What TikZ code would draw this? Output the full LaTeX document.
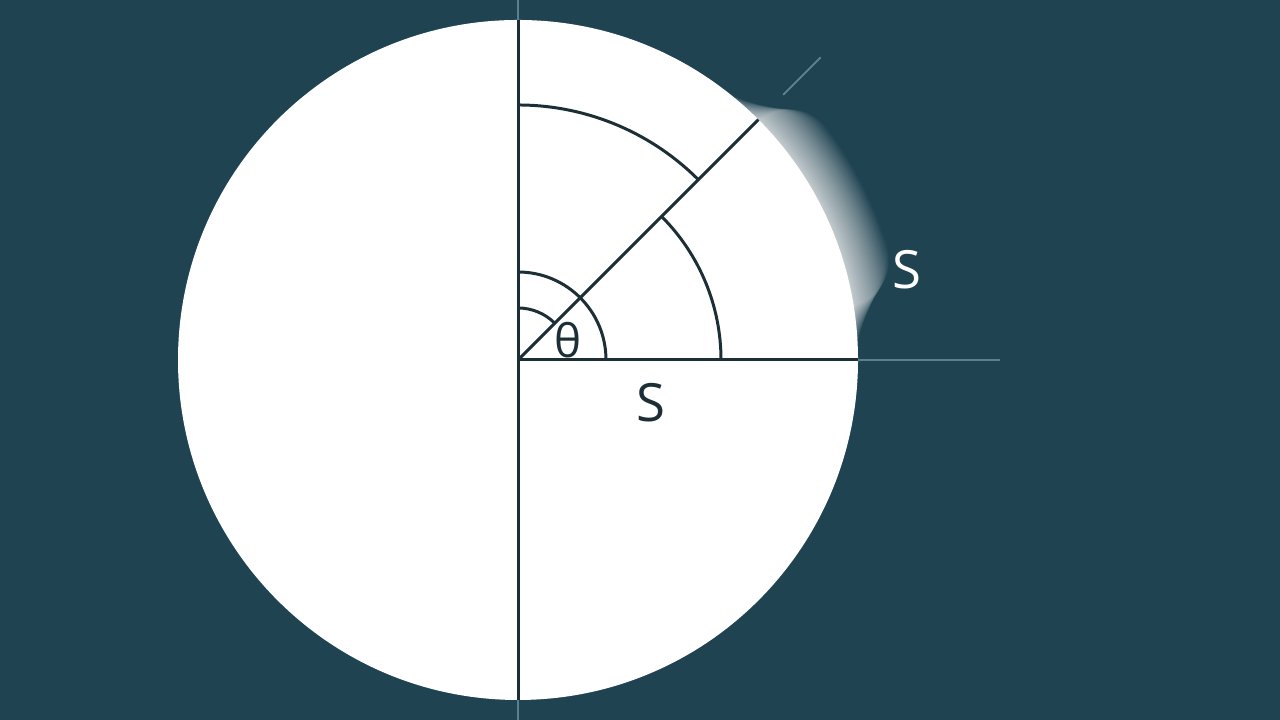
\documentclass[tikz,border=0pt]{standalone}
\usepackage{fontspec}
\setmainfont{Open Sans}
\usetikzlibrary{positioning,calc}
\definecolor{bgteal}{HTML}{1F4351}
\definecolor{ink}{HTML}{1C2F36}
\definecolor{faint}{HTML}{5A808D}

\begin{document}
\begin{tikzpicture}
\tikzset{every node/.style={inner sep=0pt},
  ln/.style={ink, line width=0.85pt},
  ext/.style={faint, line width=0.6pt}}
\fill [bgteal] (0,0) rectangle (12.8,7.2);
\useasboundingbox (0,0) rectangle (12.8,7.2);
\coordinate (O) at (5.18,3.6);
\coordinate (A) at ($(O)+(0:3.4)$);
\coordinate (B) at ($(O)+(45:3.4)$);
\coordinate (C) at ($(O)+(90:3.4)$);
\coordinate (D) at ($(O)+(270:3.4)$);
\coordinate (Aend) at (10.0,3.6);
\coordinate (Bin) at ($(O)+(45:3.75)$);
\coordinate (Bend) at ($(O)+(45:4.28)$);
% glow on the arc
\foreach \i in {1,...,50}
  \draw [white, opacity=0.032, line width=\i*sqrt(\i)*0.026mm, line cap=round]
    ($(O)+(2+\i*0.3:3.4)$) arc (2+\i*0.3:52-\i*0.3:3.4);
\fill [white] (O) circle (3.4);
% lines
\draw [ext] (5.18,0) -- (5.18,7.2);
\draw [ext] (A) -- (Aend);
\draw [ext] (Bin) -- (Bend);
\draw [ln] (C) -- (D);
\draw [ln] (O) -- (A);
\draw [ln] (O) -- (B);
% arcs
\draw [ln] ($(O)+(90:2.55)$) arc (90:45:2.55);
\draw [ln] ($(O)+(0:2.03)$) arc (0:45:2.03);
\draw [ln] ($(O)+(0:0.88)$) arc (0:90:0.88);
\draw [ln] ($(O)+(90:0.52)$) arc (90:45:0.52);
% labels
\node [white, font=\fontsize{15}{18}\selectfont] (sarc) at (9.07,4.5) {S};
\node [ink, font=\fontsize{15}{18}\selectfont] (srad) at (6.51,3.17) {S};
\node [ink, font=\fontsize{13}{16}\selectfont] (theta) at (5.68,3.8) {θ};
\end{tikzpicture}
\end{document}
